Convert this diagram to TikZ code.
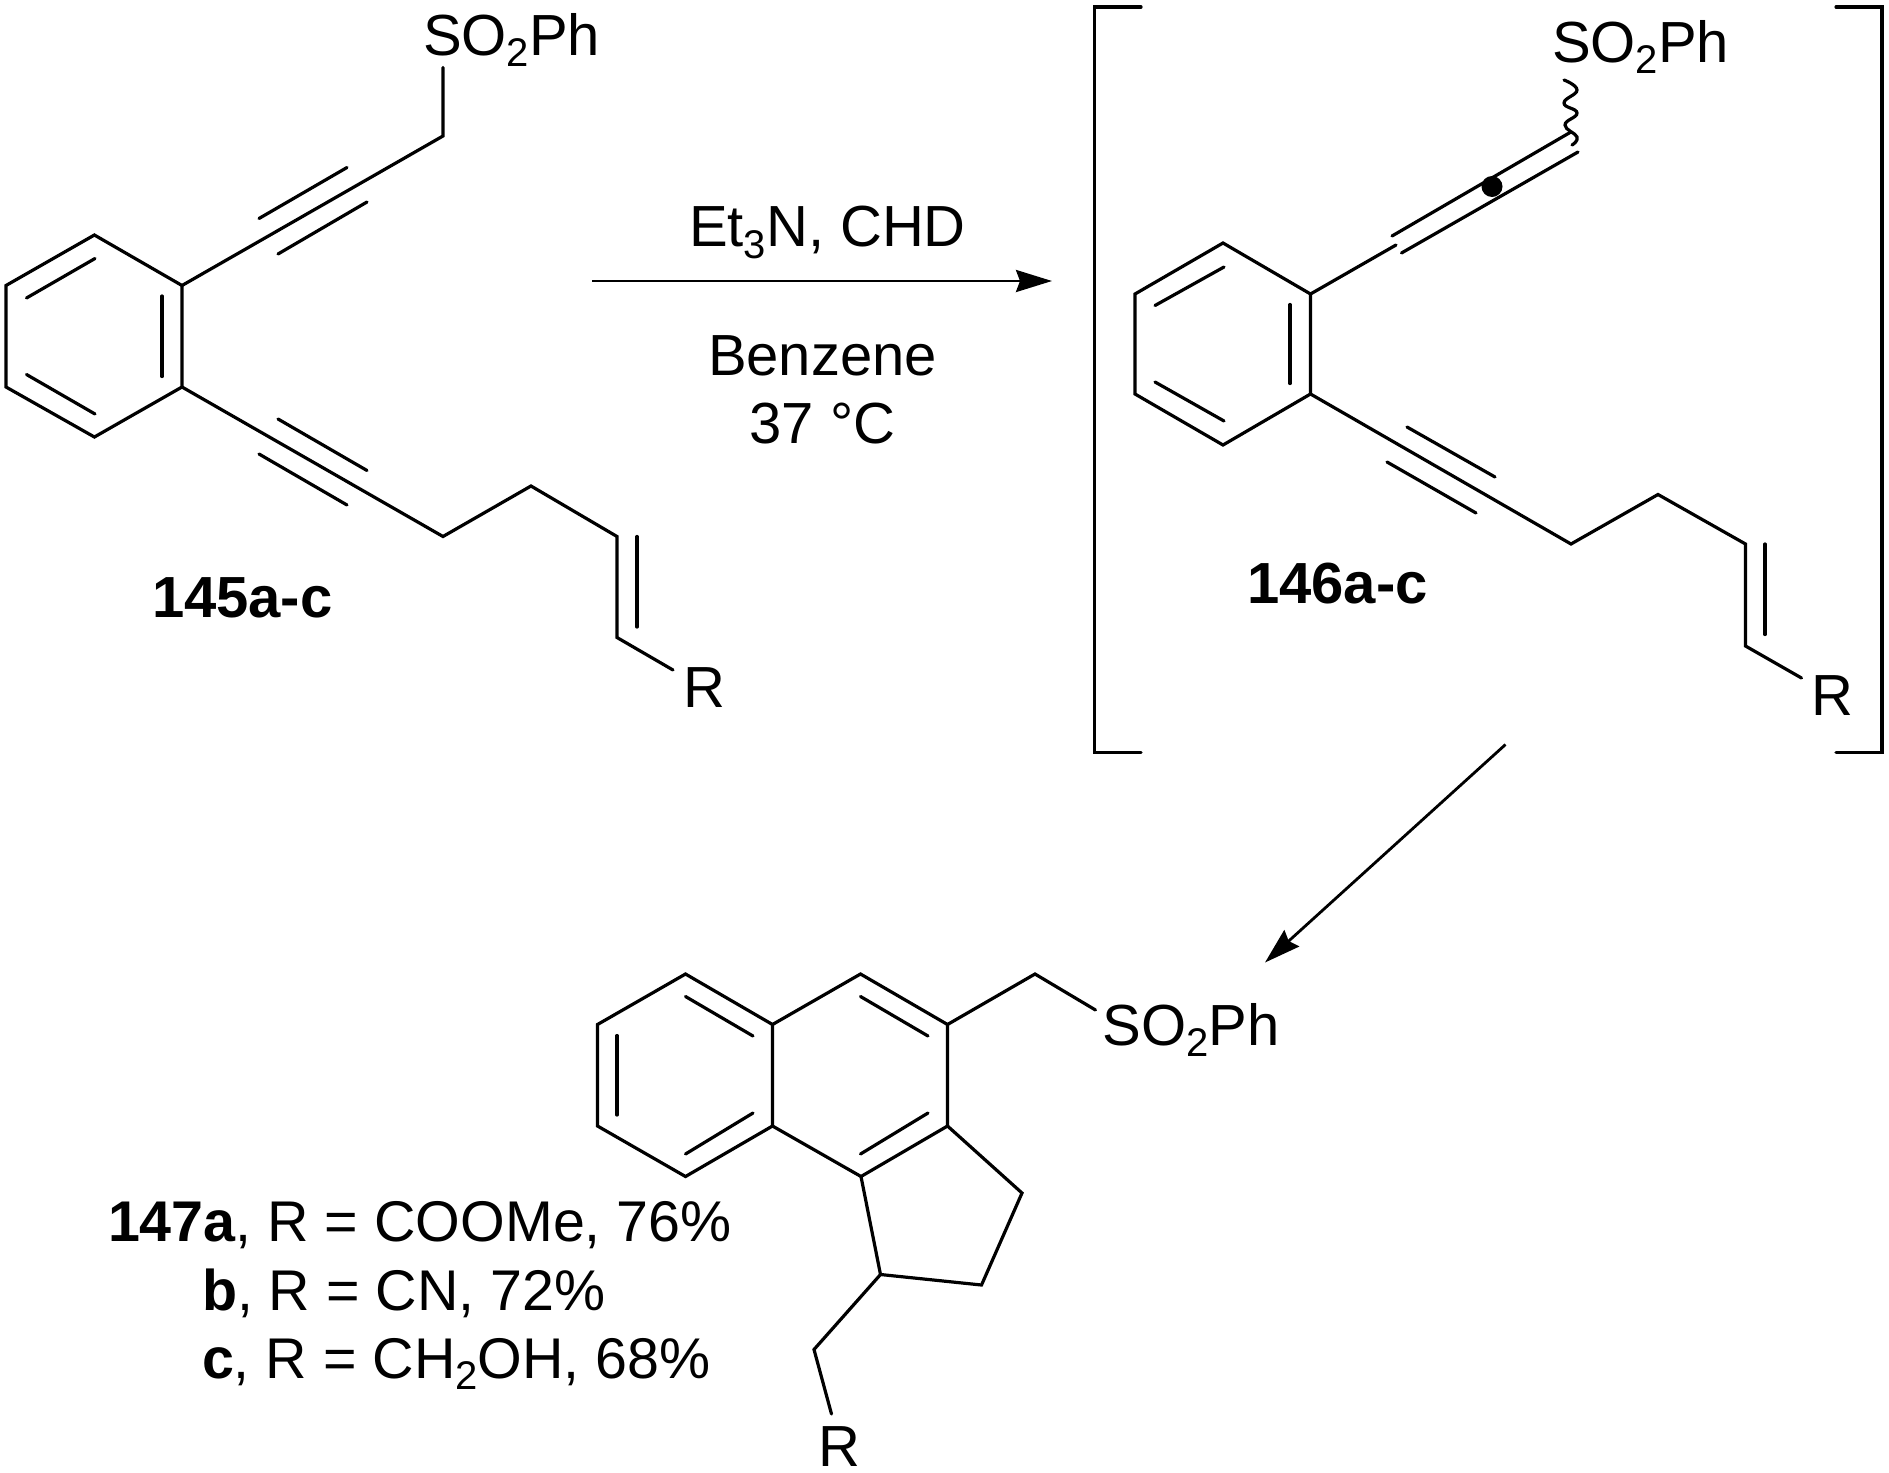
\documentclass[tikz,border=0pt]{standalone}
\usepackage{fontspec}
\setmainfont{Liberation Sans}
\usetikzlibrary{arrows.meta}
\newcommand{\chemsub}[1]{\raisebox{-0.2em}{\fontsize{20}{20}\selectfont #1}}
\tikzset{
  bond/.style={line width=1.6pt,line cap=round,line join=miter},
  txt/.style={anchor=base west,inner sep=0pt,outer sep=0pt,font=\fontsize{29}{30}\selectfont},
  ctxt/.style={anchor=base,inner sep=0pt,outer sep=0pt,font=\fontsize{29}{30}\selectfont},
  ytxt/.style={txt,font=\fontsize{28.7}{30}\selectfont},
  react/.style={line width=1.4pt,-{Stealth[length=18pt,width=11pt,inset=2pt]}}
}
\begin{document}
\begin{tikzpicture}[x=0.5pt,y=-0.5pt]
\useasboundingbox(0,0)rectangle(1889,1472);
% starting material
\draw[bond](94.4,235)--(182,285.5)--(182,387)--(94.4,437)--(6,387)--(6,285.5)--cycle;
\draw[bond](26.5,298)--(95,258.5);
\draw[bond](162,296)--(162,376.5);
\draw[bond](26.5,374.5)--(95,414);
\draw[bond](182,285.5)--(443,136)--(443,67.5);
\draw[bond](259,218.5)--(347,167.5);
\draw[bond](278,254)--(367,202);
\draw[bond](182,387)--(443,536.5)--(531,486)--(617,536.5)--(617,637.5)--(673,670);
\draw[bond](278,419)--(367,470.5);
\draw[bond](259,454)--(347,505);
\draw[bond](637,536.5)--(637,627);
\node[txt](sulfonea)at(423,55){SO\chemsub{2}Ph};
\node[txt](ra)at(683,707.5){R};
\node[txt,font=\fontsize{29}{30}\selectfont\bfseries](labela)at(152,617.5){145a-c};
% reagents
\coordinate(arrowa)at(592,281);
\coordinate(arrowb)at(1052,281);
\draw[react](arrowa)--(arrowb);
\node[ctxt](reagenta)at(827.5,246.5){Et\chemsub{3}N, CHD};
\node[ctxt](reagentb)at(822.5,375){Benzene};
\node[ctxt](reagentc)at(822.5,443.5){37 °C};
% intermediate
\draw[bond](1141,7)--(1094.5,7)--(1094.5,752.5)--(1141,752.5);
\draw[bond](1836,7)--(1882,7)--(1882,752.5)--(1836,752.5);
\draw[bond](1223,243)--(1310.5,294)--(1310.5,394)--(1223,445)--(1135,394)--(1135,294)--cycle;
\draw[bond](1155,305.5)--(1224,267);
\draw[bond](1290,304.5)--(1290,383.5);
\draw[bond](1155,382)--(1224,421);
\draw[bond](1310.5,294)--(1396,245);
\draw[bond](1392,236)--(1570,132.5);
\draw[bond](1401.5,253)--(1578,152);
\fill(1492,186.5)circle(10.5);
\draw[line width=1.6pt,line cap=round]plot[smooth,tension=0.8]coordinates{(1564,80)(1577,90)(1564,103)(1577,113)(1565,125)(1577,137)(1572,145)};
\node[txt](sulfoneb)at(1552,62){SO\chemsub{2}Ph};
\draw[bond](1310.5,394)--(1571,544)--(1658,494.5)--(1745.5,544)--(1745.5,646)--(1801.5,678);
\draw[bond](1407,427)--(1495,477);
\draw[bond](1387,462)--(1476,513);
\draw[bond](1765,544)--(1765,634.5);
\node[txt](rb)at(1811,715){R};
\node[txt,font=\fontsize{29}{30}\selectfont\bfseries](labelb)at(1247,603){146a-c};
\coordinate(arrowc)at(1505.5,744.5);
\coordinate(arrowd)at(1265,962.5);
\draw[react](arrowc)--(arrowd);
% product
\draw[bond](685.5,974)--(772.5,1024.5)--(772.5,1126)--(685.5,1176.5)--(597.5,1126)--(597.5,1024.5)--cycle;
\draw[bond](772.5,1024.5)--(860.5,974)--(947.5,1024.5)--(947.5,1126)--(861,1176.5)--(772.5,1126);
\draw[bond](685.5,996.5)--(753,1036);
\draw[bond](617,1035.5)--(617,1115);
\draw[bond](685.5,1154)--(753,1113);
\draw[bond](860.5,996.5)--(928,1036);
\draw[bond](860.5,1154)--(928,1113);
\draw[bond](947.5,1024.5)--(1035,974)--(1095.5,1010);
\draw[bond](947.5,1126)--(1022,1193)--(981.5,1285)--(880.5,1274.5)--(861,1176.5);
\draw[bond](880.5,1274.5)--(814,1349.5)--(831.5,1414);
\node[txt](sulfonec)at(1102.5,1045){SO\chemsub{2}Ph};
\node[txt](rc)at(818.5,1466){R};
\node[ytxt](yielda)at(108,1241.5){\textbf{147a}, R = COOMe, 76\%};
\node[ytxt](yieldb)at(202,1310){\textbf{b}, R = CN, 72\%};
\node[ytxt](yieldc)at(202,1378.5){\textbf{c}, R = CH\chemsub{2}OH, 68\%};
\end{tikzpicture}
\end{document}
